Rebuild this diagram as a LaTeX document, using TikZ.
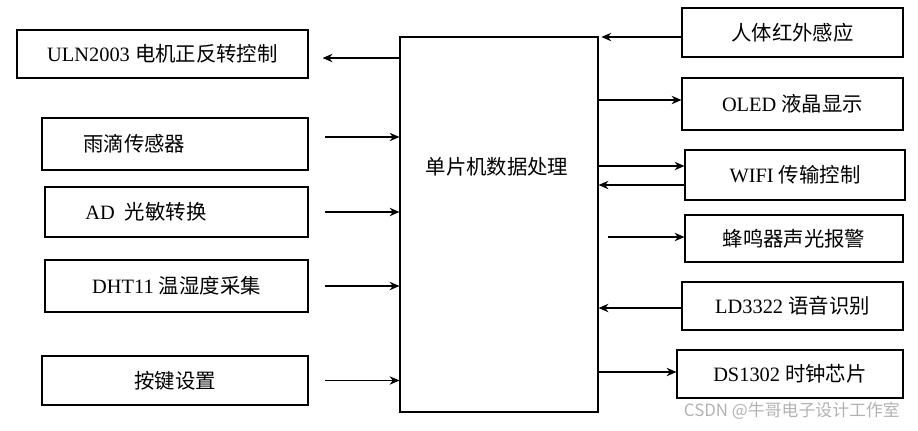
\documentclass[tikz,border=0pt]{standalone}
\usepackage{fontspec}
\setmainfont{Liberation Serif}
\newfontfamily\cjk{Noto Sans CJK SC}
\newcommand{\zh}[1]{{\cjk #1}}
\usetikzlibrary{arrows.meta,positioning}
\begin{document}
\begin{tikzpicture}[x=0.025cm,y=-0.025cm,thick,
    font=\fontsize{14.5}{16}\selectfont]

    \tikzset{box/.style={%
      draw,%
      rectangle,%
      line width=0.8pt,%
      inner sep=0pt}%
    };
    \tikzset{arr/.style={-{Stealth[length=7pt,width=6pt]}, line width=0.8pt}};

    \useasboundingbox (0,0) rectangle (918,430);

    %%%%%%%%%%%%%%%
    %   centre    %
    %%%%%%%%%%%%%%%
    \node [box, minimum width=198*0.025cm, minimum height=375*0.025cm] (mcu) at (499,224.5) {};
    \node (mcutext) at (497,167) {\zh{单片机数据处理}};

    %%%%%%%%%%%%%%%
    %    left     %
    %%%%%%%%%%%%%%%
    \node [box, minimum width=291*0.025cm, minimum height=48*0.025cm] (uln) at (162.5,54) {ULN2003 \zh{电机正反转控制}};
    \node [box, minimum width=266*0.025cm, minimum height=52*0.025cm] (rain) at (175,144) {\hspace{-4em}\zh{雨滴传感器}};
    \node [box, minimum width=263*0.025cm, minimum height=50*0.025cm] (light) at (176.5,212) {\hspace{-3em}AD\ \ \zh{光敏转换}};
    \node [box, minimum width=263*0.025cm, minimum height=52*0.025cm] (dht) at (176.5,286) {DHT11 \zh{温湿度采集}};
    \node [box, minimum width=266*0.025cm, minimum height=49*0.025cm] (key) at (175,380.5) {\zh{按键设置}};

    \draw [arr] (mcu.west |- 0,58) -- ([xshift=10]uln.east |- 0,58);
    \draw [arr] ([xshift=12]rain.east |- 0,137) -- (mcu.west |- 0,137);
    \draw [arr] ([xshift=12]light.east) -- (light.east -| mcu.west);
    \draw [arr] ([xshift=12]dht.east) -- (dht.east -| mcu.west);
    \draw [arr] ([xshift=12]key.east) -- (key.east -| mcu.west);

    %%%%%%%%%%%%%%%
    %    right    %
    %%%%%%%%%%%%%%%
    \node [box, minimum width=221*0.025cm, minimum height=49*0.025cm] (pir) at (792.5,32.5) {\zh{人体红外感应}};
    \node [box, minimum width=221*0.025cm, minimum height=52*0.025cm] (oled) at (792.5,104) {OLED \zh{液晶显示}};
    \node [box, minimum width=220*0.025cm, minimum height=50*0.025cm] (wifi) at (795,175) {WIFI \zh{传输控制}};
    \node [box, minimum width=218*0.025cm, minimum height=47*0.025cm] (buzz) at (794,238.5) {\zh{蜂鸣器声光报警}};
    \node [box, minimum width=221*0.025cm, minimum height=48*0.025cm] (voice) at (792.5,306) {LD3322 \zh{语音识别}};
    \node [box, minimum width=226*0.025cm, minimum height=48*0.025cm] (clock) at (790,374) {DS1302 \zh{时钟芯片}};

    \draw [arr] (pir.west |- 0,37) -- ([xshift=2]mcu.east |- 0,37);
    \draw [arr] (mcu.east |- 0,100) -- (oled.west |- 0,100);
    \draw [arr] (mcu.east |- 0,166) -- (wifi.west |- 0,166);
    \draw [arr] (wifi.west |- 0,185) -- (mcu.east |- 0,185);
    \draw [arr] ([xshift=7]mcu.east |- 0,237) -- (buzz.west |- 0,237);
    \draw [arr] (voice.west |- 0,308) -- (mcu.east |- 0,308);
    \draw [arr] (mcu.east |- 0,372) -- (clock.west |- 0,372);

    \node [text=gray!60, font=\fontsize{12}{14}\selectfont, anchor=east] (mark) at (905,411) {\cjk CSDN @牛哥电子设计工作室};

\end{tikzpicture}
\end{document}
